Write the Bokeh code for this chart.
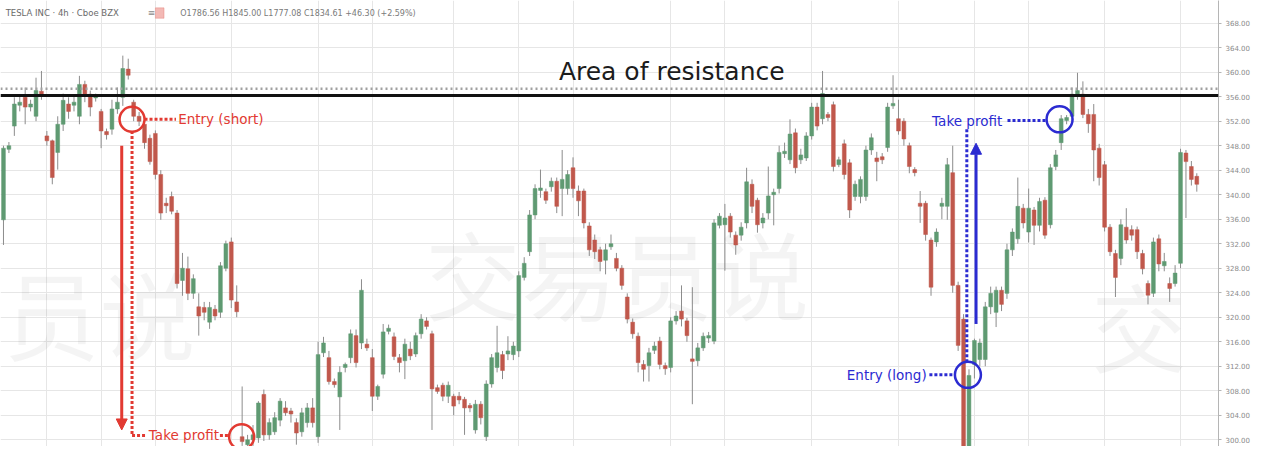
from bokeh.plotting import figure
from bokeh.models import (Range1d, FixedTicker, Grid, NumeralTickFormatter, Span, Label,
                          Arrow, NormalHead, BoxAnnotation, ColumnDataSource)
from bokeh.core.properties import value
from bokeh.embed import file_html
from bokeh.resources import INLINE

# ---------------- data (TSLA 4h candles) ----------------
opens = [335.9, 347.4, 351.2, 354.6, 355.9, 354.3, 352.8, 356.9, 349.6, 348.8,
         346.9, 351.5, 354.8, 354.6, 352.8, 358.0, 356.4, 355.8, 353.6, 350.3,
         350.7, 354.0, 355.9, 360.5, 355.1, 352.8, 351.5, 349.2, 350.0, 343.3,
         338.6, 339.7, 337.0, 326.0, 327.9, 323.9, 321.7, 321.6, 319.2, 321.3,
         320.8, 328.0, 332.3, 322.5, 300.5, 299.2, 300.0, 300.3, 307.4, 300.8,
         301.3, 303.2, 305.2, 304.7, 302.8, 301.3, 302.8, 305.2, 300.5, 314.2,
         313.4, 309.5, 307.0, 311.8, 313.4, 317.0, 315.8, 315.6, 313.4, 307.1,
         310.7, 317.7, 316.8, 313.4, 312.9, 314.8, 314.0, 317.3, 319.4, 317.3,
         308.5, 308.9, 307.1, 307.1, 307.1, 306.6, 305.6, 301.6, 305.8, 300.5,
         309.1, 311.8, 313.9, 314.0, 313.9, 314.5, 326.5, 330.7, 336.7, 340.7,
         340.5, 341.3, 342.2, 341.0, 341.0, 344.4, 340.6, 340.6, 334.9, 332.6,
         331.0, 329.3, 331.5, 329.6, 328.0, 323.3, 319.2, 316.9, 312.3, 312.1,
         314.6, 316.1, 312.1, 311.8, 319.4, 321.0, 319.4, 313.2, 312.9, 315.0,
         316.6, 316.1, 335.0, 335.1, 336.5, 333.4, 333.4, 335.4, 341.7, 339.1,
         335.4, 337.0, 340.0, 341.0, 346.7, 345.7, 350.1, 345.7, 346.0, 349.6,
         354.3, 352.4, 353.1, 354.7, 344.9, 348.3, 345.2, 339.7, 339.7, 339.7,
         347.3, 346.0, 346.2, 347.7, 354.5, 352.4, 352.0, 348.0, 344.1, 338.6,
         338.6, 332.6, 332.3, 338.1, 338.1, 343.6, 325.2, 319.7, 297.0, 312.3,
         313.1, 313.1, 321.7, 320.8, 324.4, 323.9, 331.0, 332.8, 337.8, 333.9,
         337.5, 335.0, 339.1, 335.1, 344.6, 348.5, 352.1, 352.8, 356.2, 356.4,
         353.1, 353.1, 347.6, 344.9, 334.7, 330.4, 329.6, 334.7, 334.3, 334.3,
         330.4, 325.5, 323.9, 332.8, 328.4, 325.5, 325.5, 328.8, 346.8, 344.6,
         343.0]
highs = [348.0, 348.6, 355.9, 356.4, 357.5, 355.5, 359.1, 360.2, 350.4, 349.0,
         352.8, 356.5, 355.9, 356.0, 359.4, 358.6, 357.0, 356.5, 354.0, 350.8,
         355.5, 357.5, 362.7, 362.2, 355.5, 353.5, 352.2, 349.8, 350.5, 344.0,
         339.5, 340.5, 337.5, 330.5, 329.9, 327.0, 323.9, 322.5, 322.5, 322.0,
         329.0, 332.5, 333.0, 325.2, 308.7, 300.8, 302.4, 306.3, 308.2, 303.5,
         304.5, 306.8, 306.3, 305.2, 303.5, 305.2, 306.0, 306.8, 316.0, 316.8,
         314.5, 310.0, 312.0, 312.6, 318.0, 318.0, 326.2, 316.5, 314.8, 309.0,
         318.9, 318.8, 317.5, 314.0, 316.5, 316.0, 317.5, 320.5, 320.0, 317.8,
         309.0, 309.3, 309.5, 307.5, 307.8, 307.0, 306.0, 306.5, 306.3, 309.7,
         314.0, 318.6, 314.5, 316.9, 316.0, 327.5, 329.8, 337.5, 341.7, 344.1,
         341.0, 342.8, 342.8, 347.3, 344.0, 346.1, 341.5, 341.0, 335.5, 333.5,
         331.5, 332.0, 333.5, 330.5, 328.5, 323.9, 319.8, 317.5, 313.0, 315.0,
         316.0, 316.8, 312.6, 320.0, 321.0, 325.2, 319.9, 324.9, 315.8, 317.5,
         317.6, 336.0, 337.0, 338.5, 337.0, 334.0, 335.5, 344.4, 342.5, 339.5,
         337.0, 344.6, 341.0, 348.0, 348.5, 352.3, 350.8, 347.5, 350.2, 355.0,
         355.0, 360.2, 353.5, 355.2, 346.2, 349.0, 345.8, 342.3, 343.0, 348.0,
         350.0, 347.0, 346.8, 355.0, 359.5, 355.5, 352.5, 348.5, 344.5, 340.6,
         339.0, 333.0, 334.5, 339.5, 346.0, 348.0, 325.8, 320.5, 311.5, 316.5,
         316.5, 322.5, 325.0, 325.0, 325.0, 332.0, 334.5, 342.8, 338.5, 341.0,
         338.0, 339.5, 339.6, 345.0, 347.3, 353.0, 353.0, 357.5, 359.9, 358.5,
         354.0, 354.8, 348.3, 345.5, 335.2, 331.0, 336.0, 337.8, 335.0, 334.8,
         331.0, 326.0, 333.0, 333.5, 330.5, 326.5, 328.5, 347.5, 347.3, 345.5,
         343.5]
lows = [331.8, 346.8, 349.6, 353.6, 351.5, 353.6, 352.0, 355.5, 348.0, 341.7,
        344.1, 350.4, 352.4, 353.6, 351.5, 355.1, 352.8, 355.2, 347.6, 349.0,
        349.8, 353.2, 354.5, 358.8, 352.0, 351.2, 347.5, 344.9, 342.5, 335.9,
        337.0, 336.8, 324.7, 323.5, 322.8, 323.0, 317.0, 319.5, 318.1, 319.5,
        319.9, 327.5, 321.5, 320.0, 299.0, 298.5, 299.0, 299.5, 299.8, 300.0,
        300.8, 302.2, 303.9, 302.8, 299.2, 300.5, 302.0, 302.0, 299.5, 313.5,
        309.0, 308.5, 301.6, 311.0, 312.5, 311.8, 314.8, 314.5, 304.7, 306.5,
        310.0, 317.2, 313.0, 311.0, 309.9, 313.0, 313.5, 316.5, 318.0, 301.6,
        307.5, 306.3, 306.0, 304.0, 305.8, 300.8, 304.5, 301.0, 302.5, 299.8,
        308.5, 311.0, 309.9, 313.0, 313.0, 313.5, 326.0, 330.0, 336.0, 339.5,
        338.5, 340.5, 337.0, 336.5, 340.0, 339.5, 336.5, 334.5, 330.0, 329.5,
        327.5, 327.0, 331.0, 327.5, 324.5, 319.0, 316.5, 311.0, 309.5, 309.5,
        314.0, 311.5, 310.6, 311.0, 318.8, 318.5, 316.0, 305.8, 312.0, 314.5,
        315.8, 315.6, 334.5, 327.6, 333.0, 330.2, 332.5, 334.5, 337.0, 333.8,
        334.5, 336.0, 335.0, 340.2, 346.0, 345.0, 343.5, 345.0, 345.5, 349.0,
        350.5, 351.5, 352.0, 343.8, 344.5, 342.5, 336.2, 339.0, 338.6, 339.0,
        346.5, 342.2, 345.0, 347.0, 354.0, 349.8, 348.0, 343.5, 343.0, 335.4,
        332.5, 323.5, 331.5, 336.0, 335.9, 324.0, 314.5, 296.0, 295.5, 310.0,
        312.0, 312.0, 320.5, 318.4, 321.0, 323.0, 330.0, 332.0, 334.5, 332.2,
        331.8, 334.0, 332.8, 334.5, 344.0, 347.3, 351.5, 352.0, 355.5, 352.5,
        350.1, 342.2, 341.5, 334.0, 330.0, 323.3, 328.5, 332.0, 332.5, 329.5,
        327.0, 322.1, 323.3, 327.5, 327.5, 322.5, 325.0, 328.0, 336.2, 341.5,
        340.5]
closes = [347.6, 348.0, 354.8, 355.1, 354.3, 354.8, 357.0, 356.2, 348.8, 342.8,
          351.5, 355.4, 353.6, 355.1, 358.0, 356.4, 354.3, 356.3, 350.4, 349.8,
          354.0, 355.1, 360.6, 359.5, 352.8, 352.0, 348.5, 345.4, 343.3, 337.0,
          338.2, 337.3, 325.5, 328.0, 323.9, 326.3, 320.2, 320.8, 321.6, 320.2,
          328.4, 332.0, 322.8, 320.9, 299.7, 300.0, 300.8, 306.0, 300.8, 302.8,
          303.6, 306.3, 304.4, 304.2, 301.1, 304.4, 305.2, 302.8, 313.9, 315.8,
          309.5, 309.0, 311.0, 312.3, 317.3, 312.6, 324.4, 315.0, 307.1, 308.7,
          317.6, 318.2, 313.6, 312.6, 315.6, 313.7, 317.0, 319.7, 318.5, 308.3,
          307.9, 307.1, 308.9, 305.5, 306.5, 305.2, 305.2, 305.8, 303.6, 309.1,
          313.4, 314.2, 311.3, 314.5, 315.3, 326.8, 328.8, 336.7, 341.0, 341.1,
          339.1, 342.2, 338.1, 342.5, 343.3, 341.0, 339.0, 335.4, 331.0, 330.7,
          329.1, 331.0, 332.0, 328.0, 325.2, 319.7, 317.3, 312.6, 311.5, 314.2,
          315.3, 312.3, 311.6, 319.4, 320.2, 319.7, 317.0, 312.8, 315.0, 316.9,
          317.0, 335.4, 336.5, 336.2, 333.9, 331.8, 334.7, 342.1, 338.1, 335.1,
          336.2, 339.8, 340.4, 346.9, 347.1, 349.9, 344.4, 346.5, 349.6, 354.3,
          351.2, 356.5, 352.6, 344.6, 345.7, 343.3, 337.5, 341.7, 342.5, 347.3,
          349.3, 345.4, 345.7, 354.3, 354.9, 350.4, 349.1, 344.6, 343.6, 338.1,
          333.5, 324.9, 333.9, 338.6, 344.9, 325.2, 315.4, 297.5, 310.5, 316.2,
          315.8, 321.7, 323.9, 324.4, 322.1, 331.0, 333.9, 338.1, 335.4, 337.8,
          335.0, 338.9, 333.4, 344.4, 346.5, 352.4, 352.6, 356.4, 357.0, 353.1,
          351.6, 347.3, 342.8, 334.7, 330.7, 326.5, 335.1, 332.6, 333.4, 330.7,
          327.9, 323.6, 332.3, 328.7, 329.1, 324.7, 327.2, 346.9, 345.4, 342.5,
          341.7]

price_ticks = [300, 304, 308, 312, 316, 320, 324, 328, 332, 336, 340, 344,
               348, 352, 356, 360, 364, 368]
session_breaks = [8, 18, 28, 42, 58, 68, 83, 95, 105, 123, 133, 149, 165, 179,
                  189, 203, 217]

resistance_level = 356.2
resistance_band = 357.3
short_entry_bar, short_entry_price = 23.7, 352.3
short_exit_bar, short_exit_price = 43.9, 300.5
long_entry_bar, long_entry_price = 177.8, 310.6
long_exit_bar, long_exit_price = 194.7, 352.3

header_title = "TESLA INC · 4h · Cboe BZX"
header_ohlc = "O1786.56  H1845.00  L1777.08  C1834.61  +46.30 (+2.59%)"
watermark_texts = ["员说", "交易员说", "交"]

UP = "#5f9a72"
DOWN = "#c0584c"
WICK = "#8c8c8c"
RED = "#e23a32"
BLUE = "#2b2bd1"

# ---------------- figure ----------------
n = len(opens)
idx = list(range(n))
colors = [UP if c >= o else DOWN for o, c in zip(opens, closes)]
src = ColumnDataSource(dict(
    x=idx, o=opens, h=highs, l=lows, c=closes,
    top=[max(o, c) for o, c in zip(opens, closes)],
    bottom=[min(o, c) for o, c in zip(opens, closes)],
    color=colors))

p = figure(width=1259, height=446,
           x_range=Range1d(-0.55, 224.0), y_range=Range1d(298.9, 371.7),
           output_backend="svg", toolbar_location=None,
           x_axis_location=None, y_axis_location="right",
           min_border_left=0, min_border_right=41, min_border_top=0,
           min_border_bottom=0, outline_line_color=None,
           background_fill_color="white", border_fill_color="white")

# grids
p.xgrid.visible = False
p.add_layout(Grid(dimension=0, ticker=FixedTicker(ticks=session_breaks),
                  grid_line_color="#e6e6e6", grid_line_width=1), "center")
p.ygrid.ticker = FixedTicker(ticks=price_ticks)
p.ygrid.grid_line_color = "#e6e6e6"

ax = p.yaxis[0]
ax.ticker = FixedTicker(ticks=price_ticks)
ax.formatter = NumeralTickFormatter(format="0.00")
ax.major_label_text_font_size = "7px"
ax.major_label_text_color = "#8a8a8a"
ax.major_label_text_font = "DejaVu Sans"
ax.axis_line_color = "#b5b5b5"
ax.major_tick_line_color = "#b5b5b5"
ax.major_tick_out = 3
ax.major_tick_in = 0
ax.minor_tick_line_color = None
ax.major_label_standoff = 4

# watermark
p.text(x=[0.0, 77.7, 200.5], y=[321.0, 327.5, 318.9],
       text=watermark_texts,
       text_font=value("Noto Sans CJK SC"), text_font_size="96px",
       text_color="#000000", text_alpha=0.045,
       text_align="left", text_baseline="middle")

# candles
p.segment(x0="x", y0="l", x1="x", y1="h", source=src, line_color=WICK, line_width=1)
p.vbar(x="x", width=0.7, top="top", bottom="bottom", source=src,
       fill_color="color", line_color="color", line_width=0.5)

# resistance
p.add_layout(Span(location=resistance_band, dimension="width",
                  line_color="#a0a0a0", line_width=2.5, line_dash="2 3"))
p.add_layout(Span(location=resistance_level, dimension="width",
                  line_color="#111111", line_width=3))
p.add_layout(Label(x=123.2, y=360.1, text="Area of resistance",
                   text_align="center", text_baseline="middle",
                   text_font="DejaVu Sans", text_font_size="25px",
                   text_color="#1c1c1c"))

# ---- short trade (red) ----
tp_y = 300.7
p.line(x=[short_entry_bar, short_entry_bar], y=[350.4, tp_y],
       line_color=RED, line_width=3, line_dash="3 2")
p.line(x=[26.0, 31.8], y=[short_entry_price, short_entry_price],
       line_color=RED, line_width=3, line_dash="3 2")
p.line(x=[short_entry_bar, 26.4], y=[tp_y, tp_y],
       line_color=RED, line_width=3, line_dash="3 2")
p.line(x=[39.9, 41.7], y=[tp_y, tp_y],
       line_color=RED, line_width=3, line_dash="3 2")
p.add_layout(Arrow(end=NormalHead(size=11, fill_color=RED, line_color=RED),
                   x_start=21.8, y_start=348.0, x_end=21.8, y_end=301.6,
                   line_color=RED, line_width=3))
p.scatter(x=[short_entry_bar, short_exit_bar],
          y=[short_entry_price, short_exit_price],
          marker="circle", size=25, fill_color=None,
          line_color=RED, line_width=2.5)
p.add_layout(Label(x=32.2, y=short_entry_price, text="Entry (short)",
                   text_align="left", text_baseline="middle",
                   text_font="DejaVu Sans", text_font_size="13.5px",
                   text_color=RED))
p.add_layout(Label(x=26.8, y=tp_y, text="Take profit",
                   text_align="left", text_baseline="middle",
                   text_font="DejaVu Sans", text_font_size="13.5px",
                   text_color=RED))

# ---- long trade (blue) ----
p.line(x=[177.6, 177.6], y=[350.7, 312.4],
       line_color=BLUE, line_width=3, line_dash="3 2")
p.line(x=[170.7, 175.2], y=[long_entry_price, long_entry_price],
       line_color=BLUE, line_width=3, line_dash="3 2")
p.line(x=[185.1, 192.4], y=[352.1, 352.1],
       line_color=BLUE, line_width=3, line_dash="3 2")
p.add_layout(Arrow(end=NormalHead(size=11, fill_color=BLUE, line_color=BLUE),
                   x_start=179.3, y_start=318.9, x_end=179.3, y_end=348.4,
                   line_color=BLUE, line_width=3))
p.scatter(x=[long_entry_bar, long_exit_bar],
          y=[long_entry_price, long_exit_price],
          marker="circle", size=26, fill_color=None,
          line_color=BLUE, line_width=2.5)
p.add_layout(Label(x=170.2, y=long_entry_price, text="Entry (long)",
                   text_align="right", text_baseline="middle",
                   text_font="DejaVu Sans", text_font_size="13.5px",
                   text_color=BLUE))
p.add_layout(Label(x=171.2, y=352.1, text="Take profit",
                   text_align="left", text_baseline="middle",
                   text_font="DejaVu Sans", text_font_size="13.5px",
                   text_color=BLUE))

# ---- header ----
p.add_layout(Label(x=0.4, y=369.6, text=header_title,
                   text_align="left", text_baseline="middle",
                   text_font="DejaVu Sans", text_font_size="8.5px",
                   text_color="#6a6a6a"))
p.add_layout(Label(x=26.6, y=369.6, text="≡",
                   text_align="left", text_baseline="middle",
                   text_font="DejaVu Sans", text_font_size="9px",
                   text_color="#8a8a8a"))
p.add_layout(BoxAnnotation(left=28.0, right=29.6, bottom=368.8, top=370.5,
                           fill_color="#f3b9b5", fill_alpha=1.0,
                           line_color="#e06055", line_width=1))
p.add_layout(Label(x=32.6, y=369.6, text=header_ohlc,
                   text_align="left", text_baseline="middle",
                   text_font="DejaVu Sans", text_font_size="8px",
                   text_color="#7a7a7a"))
p.add_layout(Label(x=227.3, y=369.8, text="USD",
                   text_align="center", text_baseline="middle",
                   text_font="DejaVu Sans", text_font_size="6.5px",
                   text_color="#8a8a8a"))

open("out.html", "w").write(file_html(p, INLINE))
